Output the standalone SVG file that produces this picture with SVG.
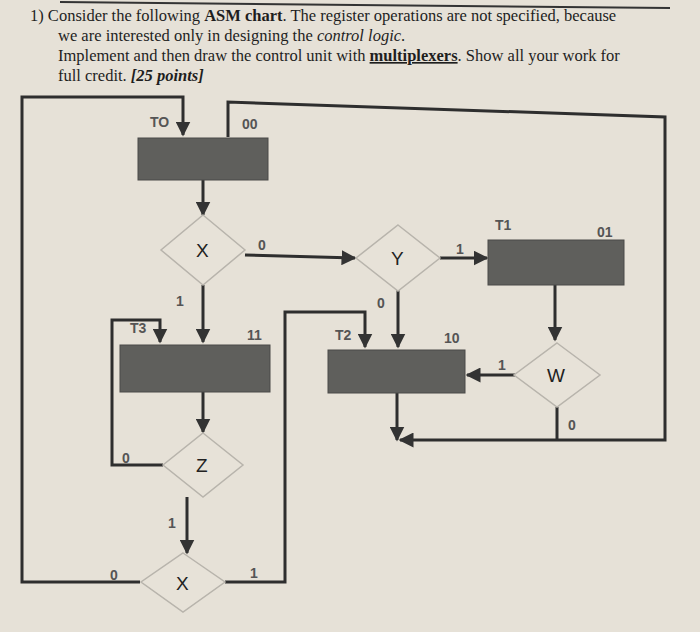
<svg xmlns="http://www.w3.org/2000/svg" width="700" height="632" viewBox="0 0 700 632">
<defs>
<marker id="ah" viewBox="0 0 10 10" refX="9" refY="5" markerWidth="5" markerHeight="5" orient="auto"><path d="M0,0L10,5L0,10z" fill="#333"/></marker>
<style>
.w{stroke:#2e2e2e;stroke-width:3;fill:none}
.a{stroke:#2e2e2e;stroke-width:3;fill:none;marker-end:url(#ah)}
.box{fill:#5f5f5c;stroke:#4a4a48;stroke-width:1}
.dia{fill:#e7e2d8;stroke:#b8b4ac;stroke-width:1.5}
.t{font-family:"Liberation Serif",serif;font-size:16.5px;fill:#1e1e1e}
.l{font-family:"Liberation Sans",sans-serif;font-size:14px;font-weight:bold;fill:#555}
.v{font-family:"Liberation Sans",sans-serif;font-size:19px;fill:#222}
</style>
</defs>
<rect width="700" height="632" fill="#e6e1d7"/>
<g id="heading">
<line x1="60" y1="2" x2="670" y2="8" stroke="#333" stroke-width="2"/>
<text class="t" x="30" y="21">1)  Consider the following <tspan font-weight="bold">ASM chart</tspan>. The register operations are not specified, because</text>
<text class="t" x="58" y="41">we are interested only in designing the <tspan font-style="italic">control logic</tspan>.</text>
<text class="t" x="58" y="61">Implement and then draw the control unit with <tspan font-weight="bold" text-decoration="underline">multiplexers</tspan>. Show all your work for</text>
<text class="t" x="58" y="81">full credit. <tspan font-style="italic" font-weight="bold">[25 points]</tspan></text>
</g>
<g id="connectors">
<polyline class="a" points="140,582 22,582 22,97 183,97 183,135"/>
<polyline class="a" points="228,137 228,102 665,117 665,440 400,440"/>
<line class="a" x1="203" y1="180" x2="203" y2="215"/>
<line class="a" x1="245" y1="255" x2="355" y2="258"/>
<line class="a" x1="203" y1="285" x2="203" y2="342"/>
<polyline class="a" points="163,465 112,465 112,320 160,320 160,342"/>
<line class="a" x1="203" y1="392" x2="203" y2="432"/>
<line class="a" x1="187" y1="497" x2="187" y2="553"/>
<polyline class="a" points="225,582 285,582 285,312 365,312 365,347"/>
<line class="a" x1="398" y1="290" x2="398" y2="347"/>
<line class="a" x1="440" y1="258" x2="487" y2="258"/>
<line class="a" x1="555" y1="285" x2="555" y2="340"/>
<line class="a" x1="515" y1="375" x2="467" y2="375"/>
<line class="a" x1="397" y1="393" x2="397" y2="440"/>
<line class="w" x1="557" y1="407" x2="557" y2="440"/>
</g>
<g id="T0"><rect class="box" x="138" y="138" width="130" height="42"/><text class="l" x="150" y="127">TO</text><text class="l" x="242" y="129">00</text></g>
<g id="X1"><polygon class="dia" points="203,215 245,250 203,285 161,250"/><text class="v" x="196" y="257">X</text><text class="l" x="258" y="250">0</text><text class="l" x="176" y="306">1</text></g>
<g id="Y"><polygon class="dia" points="398,225 440,258 398,291 356,258"/><text class="v" x="391" y="265">Y</text><text class="l" x="456" y="254">1</text><text class="l" x="377" y="308">0</text></g>
<g id="T1"><rect class="box" x="488" y="240" width="136" height="45"/><text class="l" x="495" y="230">T1</text><text class="l" x="597" y="237">01</text></g>
<g id="T3"><rect class="box" x="120" y="345" width="150" height="47"/><text class="l" x="130" y="333">T3</text><text class="l" x="247" y="340">11</text></g>
<g id="T2"><rect class="box" x="328" y="350" width="137" height="43"/><text class="l" x="335" y="340">T2</text><text class="l" x="444" y="343">10</text></g>
<g id="W"><polygon class="dia" points="557,343 600,375 557,407 514,375"/><text class="v" x="547" y="382">W</text><text class="l" x="498" y="370">1</text><text class="l" x="568" y="430">0</text></g>
<g id="Z"><polygon class="dia" points="203,433 243,465 203,497 163,465"/><text class="v" x="196" y="472">Z</text><text class="l" x="122" y="463">0</text><text class="l" x="168" y="528">1</text></g>
<g id="X2"><polygon class="dia" points="183,553 225,582 183,612 141,582"/><text class="v" x="176" y="590">X</text><text class="l" x="110" y="580">0</text><text class="l" x="250" y="578">1</text></g>
</svg>
